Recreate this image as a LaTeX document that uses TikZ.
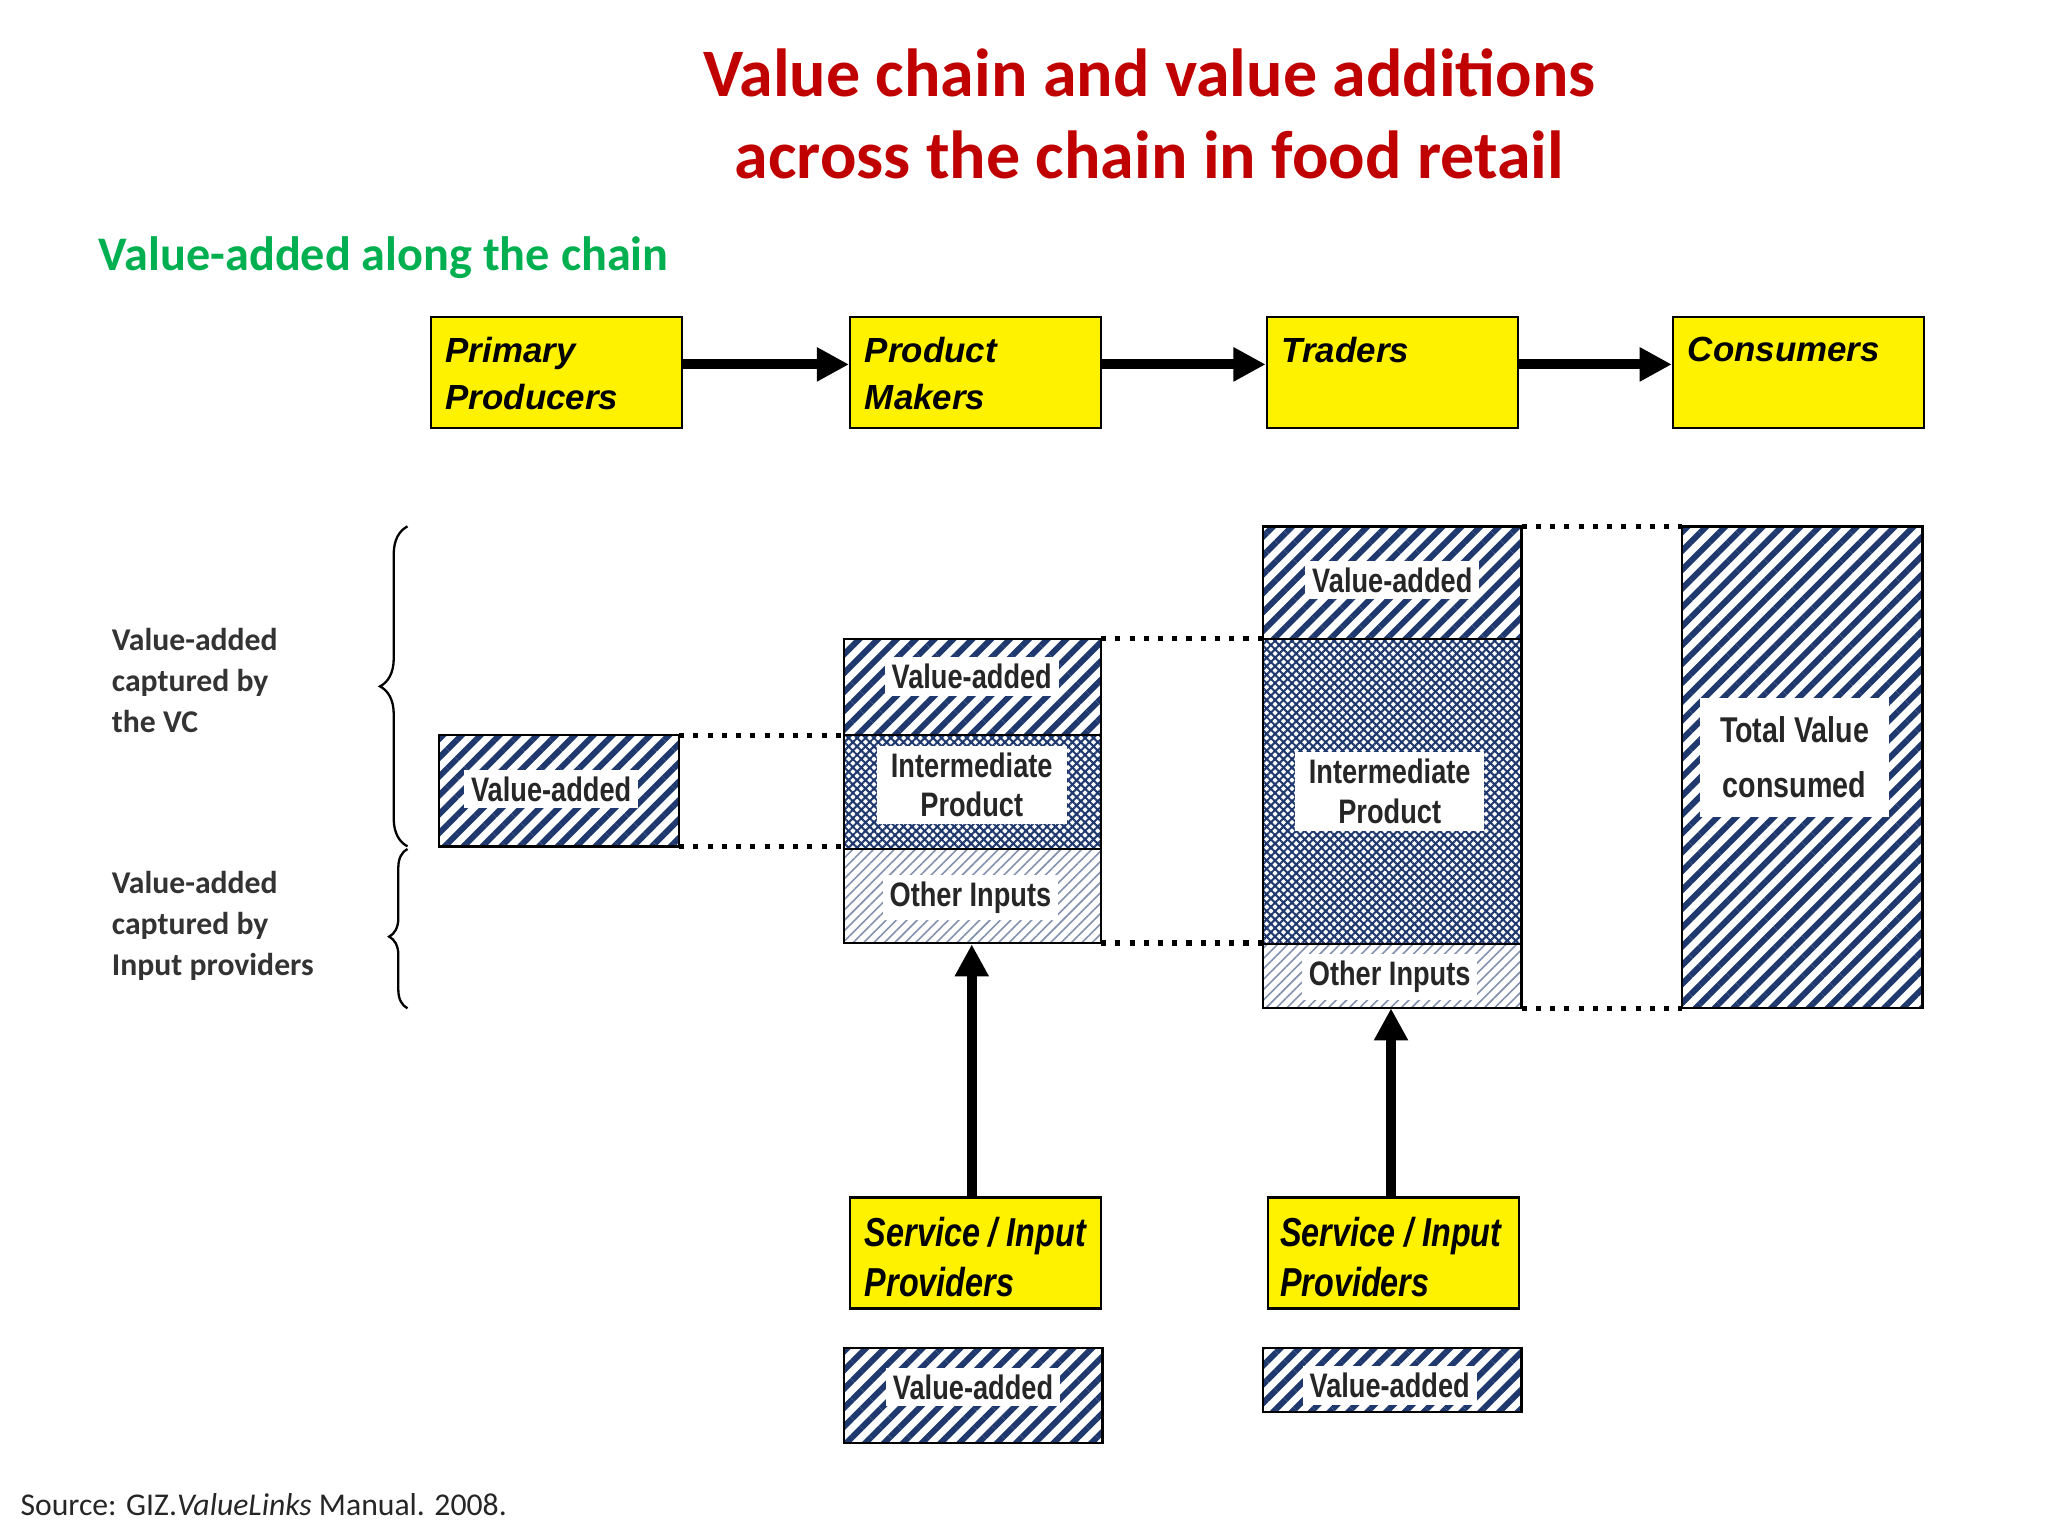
\documentclass[tikz,border=0pt]{standalone}
\usepackage{fontspec}
\setmainfont{Carlito}
\newfontfamily\arl{Liberation Sans}
\newfontfamily\nrw{Liberation Sans}[FakeStretch=0.8]
\usetikzlibrary{patterns.meta,decorations.pathreplacing,arrows.meta}
\definecolor{navy}{RGB}{31,56,110}
\definecolor{ttl}{RGB}{192,0,0}
\definecolor{grn}{RGB}{0,176,80}
\begin{document}
\begin{tikzpicture}[x=0.01cm,y=-0.01cm,
 yb/.style={draw=black,line width=0.5pt,fill=yellow,minimum width=1.92cm,minimum height=0.85cm,anchor=north west,inner sep=0pt},
 yt/.style={anchor=north west,align=left,inner sep=1pt,font=\arl\bfseries\itshape\fontsize{7.6}{10.2}\selectfont},
 st/.style={pattern={Lines[angle=45,distance=2.9pt,line width=1.3pt]},pattern color=navy},
 ip/.style={pattern={Hatch[angle=45,distance=1.3pt,line width=0.45pt]},pattern color=navy},
 oi/.style={pattern={Lines[angle=45,distance=1.6pt,line width=0.35pt]},pattern color=navy!55},
 bx/.style={draw=black,line width=0.5pt},
 lb/.style={fill=white,inner sep=1.5pt,align=center,font=\nrw\bfseries\fontsize{7.4}{8.6}\selectfont,text=black!85},
 dt/.style={line width=1.1pt,dotted},
 ar/.style={line width=2.2pt,-{Triangle[length=7pt,width=7pt]}}]
\useasboundingbox (0,0) rectangle (1568,1176);
\node[font=\bfseries\fontsize{14.8}{17.8}\selectfont,text=ttl,align=center] (title) at (880,87) {Value chain and value additions\\across the chain in food retail};
\node[anchor=west,inner sep=0pt,font=\bfseries\fontsize{10.5}{12}\selectfont,text=grn] (sub) at (75,197) {Value-added along the chain};
% top boxes
\node[yb] (pp) at (329,242) {};
\node[yb] (pm) at (650,242) {};
\node[yb] (tr) at (969,242) {};
\node[yb] (co) at (1280,242) {};
\node[yt] at (337,254) {Primary\\Producers};
\node[yt] at (658,254) {Product\\Makers};
\node[yt] at (977,254) {Traders};
\node[yt] at (1288,254) {Consumers};
\draw[ar] (pp.east |- 0,279) -- (pm.west |- 0,279);
\draw[ar] (pm.east |- 0,279) -- (tr.west |- 0,279);
\draw[ar] (tr.east |- 0,279) -- (co.west |- 0,279);
% primary
\path[st] (336,563) rectangle (520,648);
\draw[bx] (336,563) rectangle (520,648);
\node[lb] (l1) at (422,604) {Value-added};
% product makers
\path[st] (646,489) rectangle (843,563);
\path[ip] (646,563) rectangle (843,650);
\path[oi] (646,650) rectangle (843,722);
\draw[bx] (646,489) rectangle (843,722);
\draw[bx] (646,563) -- (843,563) (646,650) -- (843,650);
\node[lb] at (744,518) {Value-added};
\node[lb,minimum width=1.45cm] at (744,601) {Intermediate\\Product};
\node[lb] at (743,687) {Other Inputs};
\coordinate (pmb) at (744,723);
% traders
\path[st] (967,403) rectangle (1165,489);
\path[ip] (967,489) rectangle (1165,723);
\path[oi] (967,723) rectangle (1165,772);
\draw[bx] (967,403) rectangle (1165,772);
\draw[bx] (967,489) -- (1165,489) (967,723) -- (1165,723);
\node[lb] at (1066,444) {Value-added};
\node[lb,minimum width=1.45cm] at (1064,606) {Intermediate\\Product};
\node[lb] at (1064,748) {Other Inputs};
\coordinate (trb) at (1065,772);
% consumers
\path[st] (1288,403) rectangle (1472,772);
\draw[bx] (1288,403) rectangle (1472,772);
\node[lb,font=\nrw\bfseries\fontsize{7.8}{12}\selectfont,inner sep=4pt,minimum width=1.45cm] at (1374,580) {Total Value\\consumed};
% dotted
\draw[dt] (520,563) -- (646,563);
\draw[dt] (520,648) -- (646,648);
\draw[dt] (843,489) -- (967,489);
\draw[dt] (843,722) -- (967,722);
\draw[dt] (1165,403) -- (1288,403);
\draw[dt] (1165,772) -- (1288,772);
% service providers
\node[yb] (s1) at (650,916) {};
\node[yb] (s2) at (970,916) {};
\node[yt,font=\nrw\bfseries\itshape\fontsize{8.8}{10.8}\selectfont] at (658,928) {Service / Input\\Providers};
\node[yt,font=\nrw\bfseries\itshape\fontsize{8.8}{10.8}\selectfont] at (976,928) {Service / Input\\Providers};
\draw[ar] (pmb |- s1.north) -- (pmb);
\draw[ar] (trb |- s2.north) -- (trb);
\path[st] (646,1032) rectangle (844,1105);
\draw[bx] (646,1032) rectangle (844,1105);
\node[lb] at (745,1062) {Value-added};
\path[st] (967,1032) rectangle (1165,1081);
\draw[bx] (967,1032) rectangle (1165,1081);
\node[lb] at (1064,1061) {Value-added};
% braces
\draw[decorate,decoration={brace,amplitude=6pt,aspect=0.5},line width=0.5pt] (312,648) -- (312,403);
\draw[decorate,decoration={brace,amplitude=4pt,aspect=0.45},line width=0.5pt] (312,772) -- (312,650);
\node[anchor=north west,inner sep=0pt,align=left,font=\bfseries\fontsize{6.9}{9}\selectfont,text=black!80] at (85,480) {Value-added\\captured by\\the VC};
\node[anchor=north west,inner sep=0pt,align=left,font=\bfseries\fontsize{6.9}{9}\selectfont,text=black!80] at (85,666) {Value-added\\captured by\\Input providers};
\node[anchor=west,inner sep=0pt,font=\fontsize{6.9}{8}\selectfont,text=black!85] at (15,1152) {Source: GIZ.\textit{ValueLinks} Manual. 2008.};
\end{tikzpicture}
\end{document}
